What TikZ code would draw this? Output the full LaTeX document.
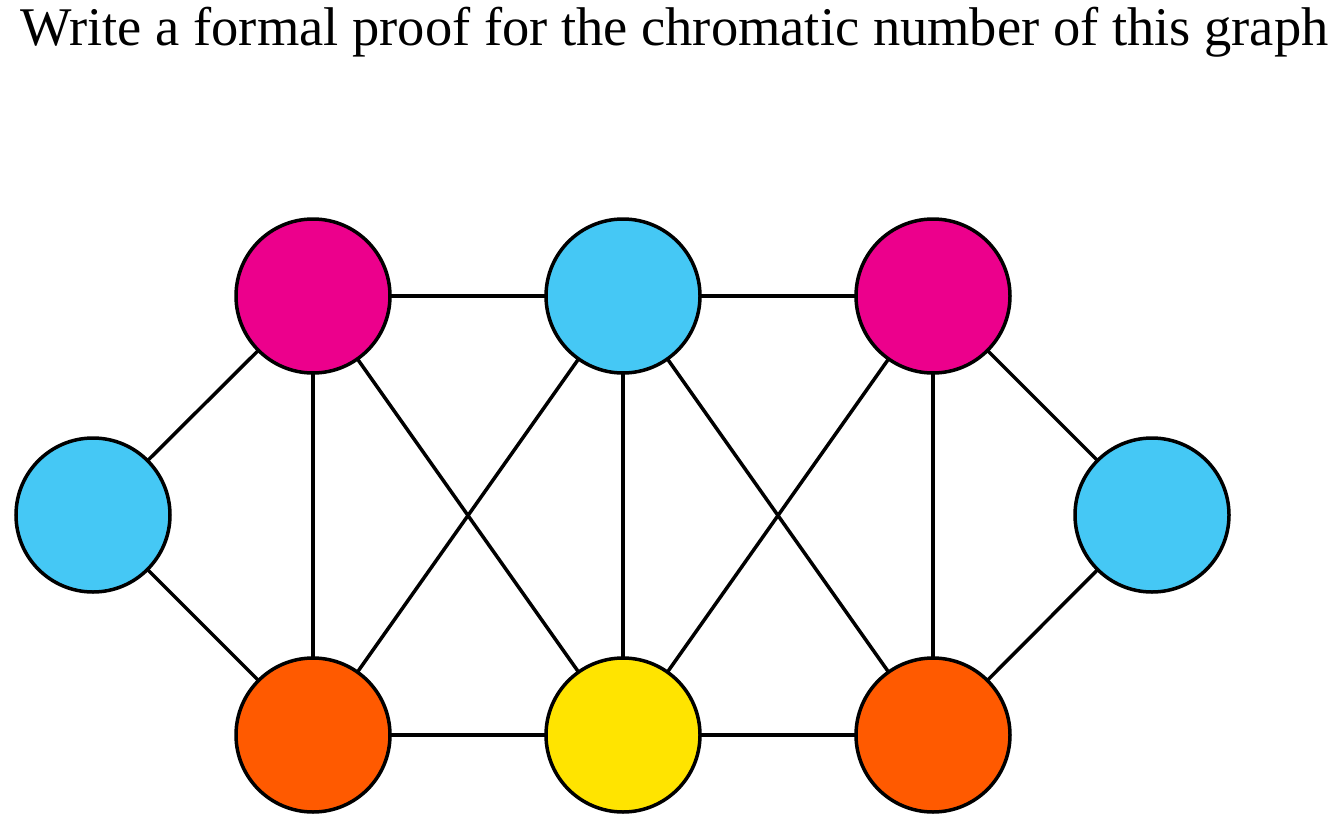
\documentclass[tikz,border=0pt]{standalone}
\usepackage{fontspec}
\setmainfont{Liberation Serif}
\begin{document}
\begin{tikzpicture}[x=1pt,y=-1pt,
  v/.style={circle,draw=black,line width=3.5pt,minimum size=154pt,inner sep=0pt},
  e/.style={line width=3.5pt}]
\useasboundingbox (0,0) rectangle (1339,822);
\definecolor{mag}{HTML}{EC008C}\definecolor{cy}{HTML}{45C8F5}
\definecolor{orng}{HTML}{FF5A00}\definecolor{yel}{HTML}{FFE400}
\node[anchor=base west,inner sep=0pt,font=\fontsize{54.5}{58}\selectfont] (t) at (20,45) {Write a formal proof for the chromatic number of this graph};
\coordinate (a) at (313,296); \coordinate (b) at (623,296); \coordinate (c) at (933,296);
\coordinate (l) at (93,515); \coordinate (r) at (1152,515);
\coordinate (d) at (313,735); \coordinate (f) at (623,735); \coordinate (g) at (933,735);
\foreach \p/\q in {a/b,b/c,a/l,l/d,a/d,a/f,b/d,b/f,b/g,c/f,c/g,c/r,r/g,d/f,f/g}
  \draw[e] (\p) -- (\q);
\node[v,fill=mag] at (a) {}; \node[v,fill=cy] at (b) {}; \node[v,fill=mag] at (c) {};
\node[v,fill=cy] at (l) {}; \node[v,fill=cy] at (r) {};
\node[v,fill=orng] at (d) {}; \node[v,fill=yel] at (f) {}; \node[v,fill=orng] at (g) {};
\end{tikzpicture}
\end{document}
